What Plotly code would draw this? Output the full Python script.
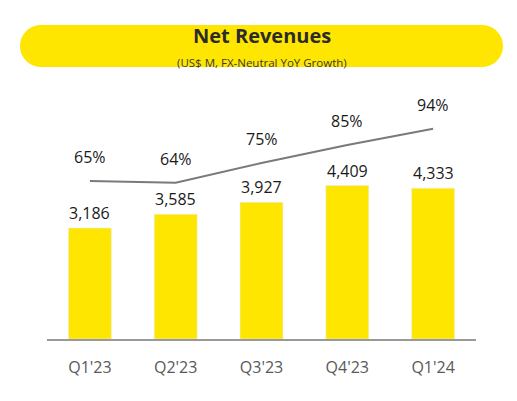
import plotly.graph_objects as go

# data
quarters = ["Q1'23", "Q2'23", "Q3'23", "Q4'23", "Q1'24"]
revenues = [3186, 3585, 3927, 4409, 4333]
growth = [65, 64, 75, 85, 94]

W, H = 517, 401
L, R, T, B = 47, 41, 80, 62
pw, ph = W - L - R, H - T - B

YELLOW = "#FFE600"
FONT = "Open Sans"


def px(x, y):
    # pixel position -> paper coordinates
    return (x - L) / pw, (H - B - y) / ph


def banner_path(x0, y0, x1, y1):
    r = (y1 - y0) / 2
    k = 0.5523 * r
    ym = (y0 + y1) / 2
    pts = [
        ("M", [(x0 + r, y0)]),
        ("L", [(x1 - r, y0)]),
        ("C", [(x1 - r + k, y0), (x1, ym - k), (x1, ym)]),
        ("C", [(x1, ym + k), (x1 - r + k, y1), (x1 - r, y1)]),
        ("L", [(x0 + r, y1)]),
        ("C", [(x0 + r - k, y1), (x0, ym + k), (x0, ym)]),
        ("C", [(x0, ym - k), (x0 + r - k, y0), (x0 + r, y0)]),
    ]
    out = ""
    for cmd, ps in pts:
        out += cmd + " ".join("%.5f,%.5f" % px(a, b) for a, b in ps) + " "
    return out + "Z"


fig = go.Figure()

fig.add_trace(go.Bar(x=quarters, y=revenues, marker_color=YELLOW, width=0.5,
                     hoverinfo="skip"))
fig.add_trace(go.Scatter(x=quarters, y=growth, yaxis="y2", mode="lines",
                         line=dict(color="#7a7a7a", width=2), hoverinfo="skip"))

# bar value labels
for q, v in zip(quarters, revenues):
    fig.add_annotation(x=q, y=v, text=f"{v:,}", showarrow=False, yshift=15,
                       font=dict(size=16, color="#1a1a1a", family=FONT))

# growth labels
for q, g in zip(quarters, growth):
    fig.add_annotation(x=q, y=g, yref="y2", text=f"{g}%", showarrow=False, yshift=24,
                       font=dict(size=16, color="#1a1a1a", family=FONT))

# title banner
fig.add_shape(type="path", xref="paper", yref="paper", path=banner_path(20, 25, 503, 67),
              fillcolor=YELLOW, line_width=0, layer="below")
tx, ty = px(262, 36)
fig.add_annotation(x=tx, y=ty, xref="paper", yref="paper", text="<b>Net Revenues</b>",
                   xanchor="center", yanchor="middle", showarrow=False,
                   font=dict(size=20, color="#2b2b2b", family=FONT))
sx, sy = px(262, 63)
fig.add_annotation(x=sx, y=sy, xref="paper", yref="paper",
                   text="(US$ M, FX-Neutral YoY Growth)", xanchor="center", yanchor="middle",
                   showarrow=False, font=dict(size=11.5, color="#3a3a3a", family=FONT))

fig.update_layout(
    width=W, height=H,
    margin=dict(l=L, r=R, t=T, b=B),
    paper_bgcolor="white", plot_bgcolor="white",
    showlegend=False,
    font=dict(family=FONT),
    xaxis=dict(showline=True, linecolor="#999999", linewidth=2, showgrid=False,
               ticks="", ticklabelstandoff=13,
               tickfont=dict(size=16, color="#595959", family=FONT)),
    yaxis=dict(range=[0, 7440], visible=False, showgrid=False),
    yaxis2=dict(range=[-22.8, 121.1], overlaying="y", visible=False, showgrid=False),
)

# drop the default page margin so the figure sits at the window origin
fig.write_html("out.html", config={"displayModeBar": False},
               post_script="document.body.style.margin='0';")
